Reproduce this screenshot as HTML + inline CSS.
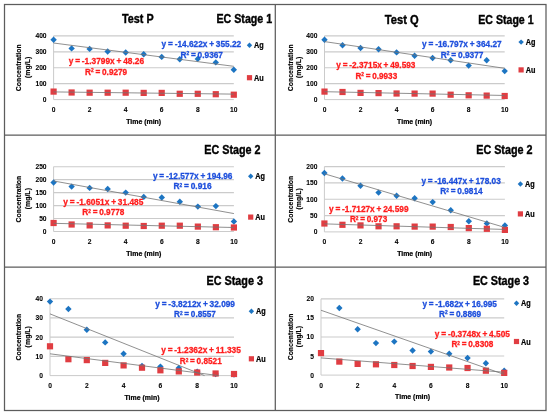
<!DOCTYPE html>
<html><head><meta charset="utf-8"><style>
html,body{margin:0;padding:0;background:#fff;width:550px;height:414px;overflow:hidden}
svg{display:block}
text{font-family:"Liberation Sans", sans-serif;font-weight:bold}
</style></head><body>
<svg width="550" height="414" viewBox="0 0 550 414">
<defs><filter id="bl" x="0" y="0" width="550" height="414" filterUnits="userSpaceOnUse"><feGaussianBlur stdDeviation="0.35"/></filter></defs>
<rect width="550" height="414" fill="#fff"/>
<g filter="url(#bl)">
<line x1="53.6" y1="83.67" x2="233.8" y2="83.67" stroke="#cbcbcb" stroke-width="1.15"/>
<line x1="53.6" y1="67.75" x2="233.8" y2="67.75" stroke="#cbcbcb" stroke-width="1.15"/>
<line x1="53.6" y1="51.82" x2="233.8" y2="51.82" stroke="#cbcbcb" stroke-width="1.15"/>
<line x1="53.6" y1="35.9" x2="233.8" y2="35.9" stroke="#cbcbcb" stroke-width="1.15"/>
<line x1="53.6" y1="35.9" x2="53.6" y2="99.6" stroke="#cbcbcb" stroke-width="1"/>
<line x1="53.6" y1="99.6" x2="233.8" y2="99.6" stroke="#cbcbcb" stroke-width="1"/>
<text x="46.6" y="102.1" font-size="6.7" fill="#000" stroke="#000" text-anchor="end" stroke-width="0.08">0</text>
<text x="46.6" y="86.17" font-size="6.7" fill="#000" stroke="#000" text-anchor="end" stroke-width="0.08">100</text>
<text x="46.6" y="70.25" font-size="6.7" fill="#000" stroke="#000" text-anchor="end" stroke-width="0.08">200</text>
<text x="46.6" y="54.32" font-size="6.7" fill="#000" stroke="#000" text-anchor="end" stroke-width="0.08">300</text>
<text x="46.6" y="38.4" font-size="6.7" fill="#000" stroke="#000" text-anchor="end" stroke-width="0.08">400</text>
<text x="53.6" y="112.1" font-size="6.7" fill="#000" stroke="#000" text-anchor="middle" stroke-width="0.08">0</text>
<text x="89.64" y="112.1" font-size="6.7" fill="#000" stroke="#000" text-anchor="middle" stroke-width="0.08">2</text>
<text x="125.68" y="112.1" font-size="6.7" fill="#000" stroke="#000" text-anchor="middle" stroke-width="0.08">4</text>
<text x="161.72" y="112.1" font-size="6.7" fill="#000" stroke="#000" text-anchor="middle" stroke-width="0.08">6</text>
<text x="197.76" y="112.1" font-size="6.7" fill="#000" stroke="#000" text-anchor="middle" stroke-width="0.08">8</text>
<text x="233.8" y="112.1" font-size="6.7" fill="#000" stroke="#000" text-anchor="middle" stroke-width="0.08">10</text>
<text x="126.2" y="123.9" font-size="7.6" fill="#000" stroke="#000" textLength="35" lengthAdjust="spacingAndGlyphs" stroke-width="0.24">Time (min)</text>
<text transform="translate(21.4 67.75) rotate(-90)" x="0" y="0" font-size="8.1" fill="#000" stroke="#000" stroke-width="0.15" text-anchor="middle" textLength="46.8" lengthAdjust="spacingAndGlyphs">Concentration</text>
<text transform="translate(30.1 67.35) rotate(-90)" x="0" y="0" font-size="8.1" fill="#000" stroke="#000" stroke-width="0.15" text-anchor="middle" textLength="21.3" lengthAdjust="spacingAndGlyphs">(mg/L)</text>
<path d="M53.6 36.6L56.8 39.8L53.6 43L50.4 39.8Z" fill="#1f74c2"/>
<path d="M71.62 45.2L74.82 48.4L71.62 51.6L68.42 48.4Z" fill="#1f74c2"/>
<path d="M89.64 45.7L92.84 48.9L89.64 52.1L86.44 48.9Z" fill="#1f74c2"/>
<path d="M107.66 48.3L110.86 51.5L107.66 54.7L104.46 51.5Z" fill="#1f74c2"/>
<path d="M125.68 49.3L128.88 52.5L125.68 55.7L122.48 52.5Z" fill="#1f74c2"/>
<path d="M143.7 51.1L146.9 54.3L143.7 57.5L140.5 54.3Z" fill="#1f74c2"/>
<path d="M161.72 53.7L164.92 56.9L161.72 60.1L158.52 56.9Z" fill="#1f74c2"/>
<path d="M179.74 56.1L182.94 59.3L179.74 62.5L176.54 59.3Z" fill="#1f74c2"/>
<path d="M197.76 55.7L200.96 58.9L197.76 62.1L194.56 58.9Z" fill="#1f74c2"/>
<path d="M215.78 59.2L218.98 62.4L215.78 65.6L212.58 62.4Z" fill="#1f74c2"/>
<path d="M233.8 66.6L237 69.8L233.8 73L230.6 69.8Z" fill="#1f74c2"/>
<rect x="50.5" y="88.5" width="6.2" height="6.2" fill="#e03e42"/>
<rect x="68.52" y="89.4" width="6.2" height="6.2" fill="#e03e42"/>
<rect x="86.54" y="89.6" width="6.2" height="6.2" fill="#e03e42"/>
<rect x="104.56" y="89.6" width="6.2" height="6.2" fill="#e03e42"/>
<rect x="122.58" y="89.6" width="6.2" height="6.2" fill="#e03e42"/>
<rect x="140.6" y="89.8" width="6.2" height="6.2" fill="#e03e42"/>
<rect x="158.62" y="89.8" width="6.2" height="6.2" fill="#e03e42"/>
<rect x="176.64" y="90.7" width="6.2" height="6.2" fill="#e03e42"/>
<rect x="194.66" y="90.7" width="6.2" height="6.2" fill="#e03e42"/>
<rect x="212.68" y="91.1" width="6.2" height="6.2" fill="#e03e42"/>
<rect x="230.7" y="91.6" width="6.2" height="6.2" fill="#e03e42"/>
<line x1="53.6" y1="43.03" x2="233.8" y2="66.32" stroke="#747474" stroke-width="0.8"/>
<line x1="53.6" y1="91.91" x2="233.8" y2="94.11" stroke="#747474" stroke-width="0.8"/>
<text x="122.1" y="23.2" font-size="12" fill="#000" stroke="#000" textLength="31.5" lengthAdjust="spacingAndGlyphs" stroke-width="0.38">Test P</text>
<text x="216.5" y="23.3" font-size="12" fill="#000" stroke="#000" textLength="55.6" lengthAdjust="spacingAndGlyphs" stroke-width="0.38">EC Stage 1</text>
<text x="161.6" y="47.4" font-size="8.3" fill="#1d4fdc" stroke="#1d4fdc" textLength="79.6" lengthAdjust="spacingAndGlyphs" stroke-width="0.28" word-spacing="-0.5">y = -14.622x + 355.22</text>
<text x="180.5" y="57.5" font-size="8.3" fill="#1d4fdc" stroke="#1d4fdc" textLength="42.5" lengthAdjust="spacingAndGlyphs" stroke-width="0.28" word-spacing="-0.5">R<tspan font-size="4.8" dy="-2.4">2</tspan><tspan dy="2.4"> = 0.9367</tspan></text>
<text x="68.7" y="63.8" font-size="8.3" fill="#ff1c1c" stroke="#ff1c1c" textLength="75.4" lengthAdjust="spacingAndGlyphs" stroke-width="0.28" word-spacing="-0.5">y = -1.3799x + 48.26</text>
<text x="85.1" y="74.7" font-size="8.3" fill="#ff1c1c" stroke="#ff1c1c" textLength="42.1" lengthAdjust="spacingAndGlyphs" stroke-width="0.28" word-spacing="-0.5">R<tspan font-size="4.8" dy="-2.4">2</tspan><tspan dy="2.4"> = 0.9279</tspan></text>
<path d="M249.5 42.6L252.2 45.3L249.5 48L246.8 45.3Z" fill="#1f74c2"/>
<rect x="246.9" y="75.1" width="5.2" height="5.2" fill="#e03e42"/>
<text x="254.1" y="48.3" font-size="8.2" fill="#000" stroke="#000" textLength="9.7" lengthAdjust="spacingAndGlyphs" stroke-width="0.24">Ag</text>
<text x="254.1" y="80.8" font-size="8.2" fill="#000" stroke="#000" textLength="9.7" lengthAdjust="spacingAndGlyphs" stroke-width="0.24">Au</text>
<line x1="324.5" y1="83.67" x2="504.7" y2="83.67" stroke="#cbcbcb" stroke-width="1.15"/>
<line x1="324.5" y1="67.75" x2="504.7" y2="67.75" stroke="#cbcbcb" stroke-width="1.15"/>
<line x1="324.5" y1="51.82" x2="504.7" y2="51.82" stroke="#cbcbcb" stroke-width="1.15"/>
<line x1="324.5" y1="35.9" x2="504.7" y2="35.9" stroke="#cbcbcb" stroke-width="1.15"/>
<line x1="324.5" y1="35.9" x2="324.5" y2="99.6" stroke="#cbcbcb" stroke-width="1"/>
<line x1="324.5" y1="99.6" x2="504.7" y2="99.6" stroke="#cbcbcb" stroke-width="1"/>
<text x="317.5" y="102.1" font-size="6.7" fill="#000" stroke="#000" text-anchor="end" stroke-width="0.08">0</text>
<text x="317.5" y="86.17" font-size="6.7" fill="#000" stroke="#000" text-anchor="end" stroke-width="0.08">100</text>
<text x="317.5" y="70.25" font-size="6.7" fill="#000" stroke="#000" text-anchor="end" stroke-width="0.08">200</text>
<text x="317.5" y="54.32" font-size="6.7" fill="#000" stroke="#000" text-anchor="end" stroke-width="0.08">300</text>
<text x="317.5" y="38.4" font-size="6.7" fill="#000" stroke="#000" text-anchor="end" stroke-width="0.08">400</text>
<text x="324.5" y="112.1" font-size="6.7" fill="#000" stroke="#000" text-anchor="middle" stroke-width="0.08">0</text>
<text x="360.54" y="112.1" font-size="6.7" fill="#000" stroke="#000" text-anchor="middle" stroke-width="0.08">2</text>
<text x="396.58" y="112.1" font-size="6.7" fill="#000" stroke="#000" text-anchor="middle" stroke-width="0.08">4</text>
<text x="432.62" y="112.1" font-size="6.7" fill="#000" stroke="#000" text-anchor="middle" stroke-width="0.08">6</text>
<text x="468.66" y="112.1" font-size="6.7" fill="#000" stroke="#000" text-anchor="middle" stroke-width="0.08">8</text>
<text x="504.7" y="112.1" font-size="6.7" fill="#000" stroke="#000" text-anchor="middle" stroke-width="0.08">10</text>
<text x="397.1" y="123.9" font-size="7.6" fill="#000" stroke="#000" textLength="35" lengthAdjust="spacingAndGlyphs" stroke-width="0.24">Time (min)</text>
<text transform="translate(292.7 67.75) rotate(-90)" x="0" y="0" font-size="8.1" fill="#000" stroke="#000" stroke-width="0.15" text-anchor="middle" textLength="46.8" lengthAdjust="spacingAndGlyphs">Concentration</text>
<text transform="translate(301.1 67.35) rotate(-90)" x="0" y="0" font-size="8.1" fill="#000" stroke="#000" stroke-width="0.15" text-anchor="middle" textLength="21.3" lengthAdjust="spacingAndGlyphs">(mg/L)</text>
<path d="M324.5 36.6L327.7 39.8L324.5 43L321.3 39.8Z" fill="#1f74c2"/>
<path d="M342.52 42.1L345.72 45.3L342.52 48.5L339.32 45.3Z" fill="#1f74c2"/>
<path d="M360.54 44.8L363.74 48L360.54 51.2L357.34 48Z" fill="#1f74c2"/>
<path d="M378.56 46.1L381.76 49.3L378.56 52.5L375.36 49.3Z" fill="#1f74c2"/>
<path d="M396.58 49.2L399.78 52.4L396.58 55.6L393.38 52.4Z" fill="#1f74c2"/>
<path d="M414.6 52.6L417.8 55.8L414.6 59L411.4 55.8Z" fill="#1f74c2"/>
<path d="M432.62 54.8L435.82 58L432.62 61.2L429.42 58Z" fill="#1f74c2"/>
<path d="M450.64 57L453.84 60.2L450.64 63.4L447.44 60.2Z" fill="#1f74c2"/>
<path d="M468.66 62.4L471.86 65.6L468.66 68.8L465.46 65.6Z" fill="#1f74c2"/>
<path d="M486.68 57L489.88 60.2L486.68 63.4L483.48 60.2Z" fill="#1f74c2"/>
<path d="M504.7 67.9L507.9 71.1L504.7 74.3L501.5 71.1Z" fill="#1f74c2"/>
<rect x="321.4" y="88.5" width="6.2" height="6.2" fill="#e03e42"/>
<rect x="339.42" y="88.9" width="6.2" height="6.2" fill="#e03e42"/>
<rect x="357.44" y="89.8" width="6.2" height="6.2" fill="#e03e42"/>
<rect x="375.46" y="90" width="6.2" height="6.2" fill="#e03e42"/>
<rect x="393.48" y="90.4" width="6.2" height="6.2" fill="#e03e42"/>
<rect x="411.5" y="90.5" width="6.2" height="6.2" fill="#e03e42"/>
<rect x="429.52" y="90.5" width="6.2" height="6.2" fill="#e03e42"/>
<rect x="447.54" y="91.6" width="6.2" height="6.2" fill="#e03e42"/>
<rect x="465.56" y="92.2" width="6.2" height="6.2" fill="#e03e42"/>
<rect x="483.58" y="92.5" width="6.2" height="6.2" fill="#e03e42"/>
<rect x="501.6" y="92.9" width="6.2" height="6.2" fill="#e03e42"/>
<line x1="324.5" y1="41.59" x2="504.7" y2="68.34" stroke="#747474" stroke-width="0.8"/>
<line x1="324.5" y1="91.7" x2="504.7" y2="95.48" stroke="#747474" stroke-width="0.8"/>
<text x="384.8" y="23.6" font-size="12" fill="#000" stroke="#000" textLength="33.8" lengthAdjust="spacingAndGlyphs" stroke-width="0.38">Test Q</text>
<text x="478.3" y="23.8" font-size="12" fill="#000" stroke="#000" textLength="55.3" lengthAdjust="spacingAndGlyphs" stroke-width="0.38">EC Stage 1</text>
<text x="422.1" y="47.1" font-size="8.3" fill="#1d4fdc" stroke="#1d4fdc" textLength="79.6" lengthAdjust="spacingAndGlyphs" stroke-width="0.28" word-spacing="-0.5">y = -16.797x + 364.27</text>
<text x="440.8" y="57.6" font-size="8.3" fill="#1d4fdc" stroke="#1d4fdc" textLength="42.7" lengthAdjust="spacingAndGlyphs" stroke-width="0.28" word-spacing="-0.5">R<tspan font-size="4.8" dy="-2.4">2</tspan><tspan dy="2.4"> = 0.9377</tspan></text>
<text x="336.3" y="68.2" font-size="8.3" fill="#ff1c1c" stroke="#ff1c1c" textLength="79.1" lengthAdjust="spacingAndGlyphs" stroke-width="0.28" word-spacing="-0.5">y = -2.3715x + 49.593</text>
<text x="355.4" y="78.5" font-size="8.3" fill="#ff1c1c" stroke="#ff1c1c" textLength="41.8" lengthAdjust="spacingAndGlyphs" stroke-width="0.28" word-spacing="-0.5">R<tspan font-size="4.8" dy="-2.4">2</tspan><tspan dy="2.4"> = 0.9933</tspan></text>
<path d="M521.1 39.4L523.8 42.1L521.1 44.8L518.4 42.1Z" fill="#1f74c2"/>
<rect x="518.5" y="67.3" width="5.2" height="5.2" fill="#e03e42"/>
<text x="525.7" y="45.1" font-size="8.2" fill="#000" stroke="#000" textLength="9.7" lengthAdjust="spacingAndGlyphs" stroke-width="0.24">Ag</text>
<text x="525.7" y="73" font-size="8.2" fill="#000" stroke="#000" textLength="9.7" lengthAdjust="spacingAndGlyphs" stroke-width="0.24">Au</text>
<line x1="53.6" y1="218.54" x2="233.9" y2="218.54" stroke="#cbcbcb" stroke-width="1.15"/>
<line x1="53.6" y1="205.58" x2="233.9" y2="205.58" stroke="#cbcbcb" stroke-width="1.15"/>
<line x1="53.6" y1="192.62" x2="233.9" y2="192.62" stroke="#cbcbcb" stroke-width="1.15"/>
<line x1="53.6" y1="179.66" x2="233.9" y2="179.66" stroke="#cbcbcb" stroke-width="1.15"/>
<line x1="53.6" y1="166.7" x2="233.9" y2="166.7" stroke="#cbcbcb" stroke-width="1.15"/>
<line x1="53.6" y1="166.7" x2="53.6" y2="231.5" stroke="#cbcbcb" stroke-width="1"/>
<line x1="53.6" y1="231.5" x2="233.9" y2="231.5" stroke="#cbcbcb" stroke-width="1"/>
<text x="46.6" y="234" font-size="6.7" fill="#000" stroke="#000" text-anchor="end" stroke-width="0.08">0</text>
<text x="46.6" y="221.04" font-size="6.7" fill="#000" stroke="#000" text-anchor="end" stroke-width="0.08">50</text>
<text x="46.6" y="208.08" font-size="6.7" fill="#000" stroke="#000" text-anchor="end" stroke-width="0.08">100</text>
<text x="46.6" y="195.12" font-size="6.7" fill="#000" stroke="#000" text-anchor="end" stroke-width="0.08">150</text>
<text x="46.6" y="182.16" font-size="6.7" fill="#000" stroke="#000" text-anchor="end" stroke-width="0.08">200</text>
<text x="46.6" y="169.2" font-size="6.7" fill="#000" stroke="#000" text-anchor="end" stroke-width="0.08">250</text>
<text x="53.6" y="244" font-size="6.7" fill="#000" stroke="#000" text-anchor="middle" stroke-width="0.08">0</text>
<text x="89.66" y="244" font-size="6.7" fill="#000" stroke="#000" text-anchor="middle" stroke-width="0.08">2</text>
<text x="125.72" y="244" font-size="6.7" fill="#000" stroke="#000" text-anchor="middle" stroke-width="0.08">4</text>
<text x="161.78" y="244" font-size="6.7" fill="#000" stroke="#000" text-anchor="middle" stroke-width="0.08">6</text>
<text x="197.84" y="244" font-size="6.7" fill="#000" stroke="#000" text-anchor="middle" stroke-width="0.08">8</text>
<text x="233.9" y="244" font-size="6.7" fill="#000" stroke="#000" text-anchor="middle" stroke-width="0.08">10</text>
<text x="126.25" y="255.8" font-size="7.6" fill="#000" stroke="#000" textLength="35" lengthAdjust="spacingAndGlyphs" stroke-width="0.24">Time (min)</text>
<text transform="translate(21.4 199.1) rotate(-90)" x="0" y="0" font-size="8.1" fill="#000" stroke="#000" stroke-width="0.15" text-anchor="middle" textLength="46.8" lengthAdjust="spacingAndGlyphs">Concentration</text>
<text transform="translate(30.1 198.7) rotate(-90)" x="0" y="0" font-size="8.1" fill="#000" stroke="#000" stroke-width="0.15" text-anchor="middle" textLength="21.3" lengthAdjust="spacingAndGlyphs">(mg/L)</text>
<path d="M53.6 179.3L56.8 182.5L53.6 185.7L50.4 182.5Z" fill="#1f74c2"/>
<path d="M71.63 183.4L74.83 186.6L71.63 189.8L68.43 186.6Z" fill="#1f74c2"/>
<path d="M89.66 184.7L92.86 187.9L89.66 191.1L86.46 187.9Z" fill="#1f74c2"/>
<path d="M107.69 185.8L110.89 189L107.69 192.2L104.49 189Z" fill="#1f74c2"/>
<path d="M125.72 189.4L128.92 192.6L125.72 195.8L122.52 192.6Z" fill="#1f74c2"/>
<path d="M143.75 193.7L146.95 196.9L143.75 200.1L140.55 196.9Z" fill="#1f74c2"/>
<path d="M161.78 194.3L164.98 197.5L161.78 200.7L158.58 197.5Z" fill="#1f74c2"/>
<path d="M179.81 198.5L183.01 201.7L179.81 204.9L176.61 201.7Z" fill="#1f74c2"/>
<path d="M197.84 203.4L201.04 206.6L197.84 209.8L194.64 206.6Z" fill="#1f74c2"/>
<path d="M215.87 202.9L219.07 206.1L215.87 209.3L212.67 206.1Z" fill="#1f74c2"/>
<path d="M233.9 218.3L237.1 221.5L233.9 224.7L230.7 221.5Z" fill="#1f74c2"/>
<rect x="50.5" y="219.9" width="6.2" height="6.2" fill="#e03e42"/>
<rect x="68.53" y="221.4" width="6.2" height="6.2" fill="#e03e42"/>
<rect x="86.56" y="222.3" width="6.2" height="6.2" fill="#e03e42"/>
<rect x="104.59" y="222.3" width="6.2" height="6.2" fill="#e03e42"/>
<rect x="122.62" y="222.6" width="6.2" height="6.2" fill="#e03e42"/>
<rect x="140.65" y="222.9" width="6.2" height="6.2" fill="#e03e42"/>
<rect x="158.68" y="222.6" width="6.2" height="6.2" fill="#e03e42"/>
<rect x="176.71" y="222.6" width="6.2" height="6.2" fill="#e03e42"/>
<rect x="194.74" y="223.5" width="6.2" height="6.2" fill="#e03e42"/>
<rect x="212.77" y="224.1" width="6.2" height="6.2" fill="#e03e42"/>
<rect x="230.8" y="224.4" width="6.2" height="6.2" fill="#e03e42"/>
<line x1="53.6" y1="180.97" x2="233.9" y2="213.57" stroke="#747474" stroke-width="0.8"/>
<line x1="53.6" y1="223.34" x2="233.9" y2="227.5" stroke="#747474" stroke-width="0.8"/>
<text x="204.3" y="154.3" font-size="12" fill="#000" stroke="#000" textLength="56.2" lengthAdjust="spacingAndGlyphs" stroke-width="0.38">EC Stage 2</text>
<text x="152.9" y="178.9" font-size="8.3" fill="#1d4fdc" stroke="#1d4fdc" textLength="79.6" lengthAdjust="spacingAndGlyphs" stroke-width="0.28" word-spacing="-0.5">y = -12.577x + 194.96</text>
<text x="173.5" y="189.2" font-size="8.3" fill="#1d4fdc" stroke="#1d4fdc" textLength="38.1" lengthAdjust="spacingAndGlyphs" stroke-width="0.28" word-spacing="-0.5">R<tspan font-size="4.8" dy="-2.4">2</tspan><tspan dy="2.4"> = 0.916</tspan></text>
<text x="63.3" y="204.7" font-size="8.3" fill="#ff1c1c" stroke="#ff1c1c" textLength="80.1" lengthAdjust="spacingAndGlyphs" stroke-width="0.28" word-spacing="-0.5">y = -1.6051x + 31.485</text>
<text x="82.3" y="215.2" font-size="8.3" fill="#ff1c1c" stroke="#ff1c1c" textLength="42.1" lengthAdjust="spacingAndGlyphs" stroke-width="0.28" word-spacing="-0.5">R<tspan font-size="4.8" dy="-2.4">2</tspan><tspan dy="2.4"> = 0.9778</tspan></text>
<path d="M250.7 173.6L253.4 176.3L250.7 179L248 176.3Z" fill="#1f74c2"/>
<rect x="248.1" y="214.5" width="5.2" height="5.2" fill="#e03e42"/>
<text x="255.3" y="179.3" font-size="8.2" fill="#000" stroke="#000" textLength="9.7" lengthAdjust="spacingAndGlyphs" stroke-width="0.24">Ag</text>
<text x="255.3" y="220.2" font-size="8.2" fill="#000" stroke="#000" textLength="9.7" lengthAdjust="spacingAndGlyphs" stroke-width="0.24">Au</text>
<line x1="324.4" y1="215.57" x2="504.9" y2="215.57" stroke="#cbcbcb" stroke-width="1.15"/>
<line x1="324.4" y1="199.25" x2="504.9" y2="199.25" stroke="#cbcbcb" stroke-width="1.15"/>
<line x1="324.4" y1="182.93" x2="504.9" y2="182.93" stroke="#cbcbcb" stroke-width="1.15"/>
<line x1="324.4" y1="166.6" x2="504.9" y2="166.6" stroke="#cbcbcb" stroke-width="1.15"/>
<line x1="324.4" y1="166.6" x2="324.4" y2="231.9" stroke="#cbcbcb" stroke-width="1"/>
<line x1="324.4" y1="231.9" x2="504.9" y2="231.9" stroke="#cbcbcb" stroke-width="1"/>
<text x="317.4" y="234.4" font-size="6.7" fill="#000" stroke="#000" text-anchor="end" stroke-width="0.08">0</text>
<text x="317.4" y="218.07" font-size="6.7" fill="#000" stroke="#000" text-anchor="end" stroke-width="0.08">50</text>
<text x="317.4" y="201.75" font-size="6.7" fill="#000" stroke="#000" text-anchor="end" stroke-width="0.08">100</text>
<text x="317.4" y="185.43" font-size="6.7" fill="#000" stroke="#000" text-anchor="end" stroke-width="0.08">150</text>
<text x="317.4" y="169.1" font-size="6.7" fill="#000" stroke="#000" text-anchor="end" stroke-width="0.08">200</text>
<text x="324.4" y="244.4" font-size="6.7" fill="#000" stroke="#000" text-anchor="middle" stroke-width="0.08">0</text>
<text x="360.5" y="244.4" font-size="6.7" fill="#000" stroke="#000" text-anchor="middle" stroke-width="0.08">2</text>
<text x="396.6" y="244.4" font-size="6.7" fill="#000" stroke="#000" text-anchor="middle" stroke-width="0.08">4</text>
<text x="432.7" y="244.4" font-size="6.7" fill="#000" stroke="#000" text-anchor="middle" stroke-width="0.08">6</text>
<text x="468.8" y="244.4" font-size="6.7" fill="#000" stroke="#000" text-anchor="middle" stroke-width="0.08">8</text>
<text x="504.9" y="244.4" font-size="6.7" fill="#000" stroke="#000" text-anchor="middle" stroke-width="0.08">10</text>
<text x="397.15" y="256.2" font-size="7.6" fill="#000" stroke="#000" textLength="35" lengthAdjust="spacingAndGlyphs" stroke-width="0.24">Time (min)</text>
<text transform="translate(292.7 199.25) rotate(-90)" x="0" y="0" font-size="8.1" fill="#000" stroke="#000" stroke-width="0.15" text-anchor="middle" textLength="46.8" lengthAdjust="spacingAndGlyphs">Concentration</text>
<text transform="translate(301.1 198.85) rotate(-90)" x="0" y="0" font-size="8.1" fill="#000" stroke="#000" stroke-width="0.15" text-anchor="middle" textLength="21.3" lengthAdjust="spacingAndGlyphs">(mg/L)</text>
<path d="M324.4 169.8L327.6 173L324.4 176.2L321.2 173Z" fill="#1f74c2"/>
<path d="M342.45 175.3L345.65 178.5L342.45 181.7L339.25 178.5Z" fill="#1f74c2"/>
<path d="M360.5 182.5L363.7 185.7L360.5 188.9L357.3 185.7Z" fill="#1f74c2"/>
<path d="M378.55 189.4L381.75 192.6L378.55 195.8L375.35 192.6Z" fill="#1f74c2"/>
<path d="M396.6 192.5L399.8 195.7L396.6 198.9L393.4 195.7Z" fill="#1f74c2"/>
<path d="M414.65 195.1L417.85 198.3L414.65 201.5L411.45 198.3Z" fill="#1f74c2"/>
<path d="M432.7 198.9L435.9 202.1L432.7 205.3L429.5 202.1Z" fill="#1f74c2"/>
<path d="M450.75 207.1L453.95 210.3L450.75 213.5L447.55 210.3Z" fill="#1f74c2"/>
<path d="M468.8 218L472 221.2L468.8 224.4L465.6 221.2Z" fill="#1f74c2"/>
<path d="M486.85 220.2L490.05 223.4L486.85 226.6L483.65 223.4Z" fill="#1f74c2"/>
<path d="M504.9 222.2L508.1 225.4L504.9 228.6L501.7 225.4Z" fill="#1f74c2"/>
<rect x="321.3" y="220.4" width="6.2" height="6.2" fill="#e03e42"/>
<rect x="339.35" y="221.7" width="6.2" height="6.2" fill="#e03e42"/>
<rect x="357.4" y="222.3" width="6.2" height="6.2" fill="#e03e42"/>
<rect x="375.45" y="223.2" width="6.2" height="6.2" fill="#e03e42"/>
<rect x="393.5" y="223.2" width="6.2" height="6.2" fill="#e03e42"/>
<rect x="411.55" y="223.5" width="6.2" height="6.2" fill="#e03e42"/>
<rect x="429.6" y="223.5" width="6.2" height="6.2" fill="#e03e42"/>
<rect x="447.65" y="223.9" width="6.2" height="6.2" fill="#e03e42"/>
<rect x="465.7" y="225" width="6.2" height="6.2" fill="#e03e42"/>
<rect x="483.75" y="225.7" width="6.2" height="6.2" fill="#e03e42"/>
<rect x="501.8" y="226.8" width="6.2" height="6.2" fill="#e03e42"/>
<line x1="324.4" y1="173.77" x2="504.9" y2="227.47" stroke="#747474" stroke-width="0.8"/>
<line x1="324.4" y1="223.87" x2="504.9" y2="229.46" stroke="#747474" stroke-width="0.8"/>
<text x="476.2" y="153.5" font-size="12" fill="#000" stroke="#000" textLength="56.3" lengthAdjust="spacingAndGlyphs" stroke-width="0.38">EC Stage 2</text>
<text x="421.4" y="183.5" font-size="8.3" fill="#1d4fdc" stroke="#1d4fdc" textLength="79.4" lengthAdjust="spacingAndGlyphs" stroke-width="0.28" word-spacing="-0.5">y = -16.447x + 178.03</text>
<text x="440.3" y="194.1" font-size="8.3" fill="#1d4fdc" stroke="#1d4fdc" textLength="42.3" lengthAdjust="spacingAndGlyphs" stroke-width="0.28" word-spacing="-0.5">R<tspan font-size="4.8" dy="-2.4">2</tspan><tspan dy="2.4"> = 0.9814</tspan></text>
<text x="329" y="212.2" font-size="8.3" fill="#ff1c1c" stroke="#ff1c1c" textLength="79.5" lengthAdjust="spacingAndGlyphs" stroke-width="0.28" word-spacing="-0.5">y = -1.7127x + 24.599</text>
<text x="349.9" y="222.4" font-size="8.3" fill="#ff1c1c" stroke="#ff1c1c" textLength="37.3" lengthAdjust="spacingAndGlyphs" stroke-width="0.28" word-spacing="-0.5">R<tspan font-size="4.8" dy="-2.4">2</tspan><tspan dy="2.4"> = 0.973</tspan></text>
<path d="M520.4 181.3L523.1 184L520.4 186.7L517.7 184Z" fill="#1f74c2"/>
<rect x="517.8" y="211.3" width="5.2" height="5.2" fill="#e03e42"/>
<text x="525" y="187" font-size="8.2" fill="#000" stroke="#000" textLength="9.7" lengthAdjust="spacingAndGlyphs" stroke-width="0.24">Ag</text>
<text x="525" y="217" font-size="8.2" fill="#000" stroke="#000" textLength="9.7" lengthAdjust="spacingAndGlyphs" stroke-width="0.24">Au</text>
<line x1="50" y1="356.38" x2="234" y2="356.38" stroke="#cbcbcb" stroke-width="1.15"/>
<line x1="50" y1="337.15" x2="234" y2="337.15" stroke="#cbcbcb" stroke-width="1.15"/>
<line x1="50" y1="317.93" x2="234" y2="317.93" stroke="#cbcbcb" stroke-width="1.15"/>
<line x1="50" y1="298.7" x2="234" y2="298.7" stroke="#cbcbcb" stroke-width="1.15"/>
<line x1="50" y1="298.7" x2="50" y2="375.6" stroke="#cbcbcb" stroke-width="1"/>
<line x1="50" y1="375.6" x2="234" y2="375.6" stroke="#cbcbcb" stroke-width="1"/>
<text x="43" y="378.1" font-size="6.7" fill="#000" stroke="#000" text-anchor="end" stroke-width="0.08">0</text>
<text x="43" y="358.88" font-size="6.7" fill="#000" stroke="#000" text-anchor="end" stroke-width="0.08">10</text>
<text x="43" y="339.65" font-size="6.7" fill="#000" stroke="#000" text-anchor="end" stroke-width="0.08">20</text>
<text x="43" y="320.43" font-size="6.7" fill="#000" stroke="#000" text-anchor="end" stroke-width="0.08">30</text>
<text x="43" y="301.2" font-size="6.7" fill="#000" stroke="#000" text-anchor="end" stroke-width="0.08">40</text>
<text x="50" y="388.1" font-size="6.7" fill="#000" stroke="#000" text-anchor="middle" stroke-width="0.08">0</text>
<text x="86.8" y="388.1" font-size="6.7" fill="#000" stroke="#000" text-anchor="middle" stroke-width="0.08">2</text>
<text x="123.6" y="388.1" font-size="6.7" fill="#000" stroke="#000" text-anchor="middle" stroke-width="0.08">4</text>
<text x="160.4" y="388.1" font-size="6.7" fill="#000" stroke="#000" text-anchor="middle" stroke-width="0.08">6</text>
<text x="197.2" y="388.1" font-size="6.7" fill="#000" stroke="#000" text-anchor="middle" stroke-width="0.08">8</text>
<text x="234" y="388.1" font-size="6.7" fill="#000" stroke="#000" text-anchor="middle" stroke-width="0.08">10</text>
<text x="124.5" y="399.9" font-size="7.6" fill="#000" stroke="#000" textLength="35" lengthAdjust="spacingAndGlyphs" stroke-width="0.24">Time (min)</text>
<text transform="translate(21.4 337.15) rotate(-90)" x="0" y="0" font-size="8.1" fill="#000" stroke="#000" stroke-width="0.15" text-anchor="middle" textLength="46.8" lengthAdjust="spacingAndGlyphs">Concentration</text>
<text transform="translate(30.1 336.75) rotate(-90)" x="0" y="0" font-size="8.1" fill="#000" stroke="#000" stroke-width="0.15" text-anchor="middle" textLength="21.3" lengthAdjust="spacingAndGlyphs">(mg/L)</text>
<path d="M50 298.4L53.2 301.6L50 304.8L46.8 301.6Z" fill="#1f74c2"/>
<path d="M68.4 305.8L71.6 309L68.4 312.2L65.2 309Z" fill="#1f74c2"/>
<path d="M86.8 326.5L90 329.7L86.8 332.9L83.6 329.7Z" fill="#1f74c2"/>
<path d="M105.2 339.2L108.4 342.4L105.2 345.6L102 342.4Z" fill="#1f74c2"/>
<path d="M123.6 350.5L126.8 353.7L123.6 356.9L120.4 353.7Z" fill="#1f74c2"/>
<path d="M142 362.8L145.2 366L142 369.2L138.8 366Z" fill="#1f74c2"/>
<path d="M160.4 363.4L163.6 366.6L160.4 369.8L157.2 366.6Z" fill="#1f74c2"/>
<path d="M178.8 364.8L182 368L178.8 371.2L175.6 368Z" fill="#1f74c2"/>
<path d="M197.2 368.4L200.4 371.6L197.2 374.8L194 371.6Z" fill="#1f74c2"/>
<path d="M215.6 370.8L218.8 374L215.6 377.2L212.4 374Z" fill="#1f74c2"/>
<path d="M234 371.3L237.2 374.5L234 377.7L230.8 374.5Z" fill="#1f74c2"/>
<rect x="46.9" y="343.2" width="6.2" height="6.2" fill="#e03e42"/>
<rect x="65.3" y="356.1" width="6.2" height="6.2" fill="#e03e42"/>
<rect x="83.7" y="357" width="6.2" height="6.2" fill="#e03e42"/>
<rect x="102.1" y="359.8" width="6.2" height="6.2" fill="#e03e42"/>
<rect x="120.5" y="362.3" width="6.2" height="6.2" fill="#e03e42"/>
<rect x="138.9" y="364.6" width="6.2" height="6.2" fill="#e03e42"/>
<rect x="157.3" y="367.2" width="6.2" height="6.2" fill="#e03e42"/>
<rect x="175.7" y="368.3" width="6.2" height="6.2" fill="#e03e42"/>
<rect x="194.1" y="369.4" width="6.2" height="6.2" fill="#e03e42"/>
<rect x="212.5" y="370.4" width="6.2" height="6.2" fill="#e03e42"/>
<rect x="230.9" y="370.9" width="6.2" height="6.2" fill="#e03e42"/>
<line x1="50" y1="313.89" x2="204.56" y2="375.6" stroke="#747474" stroke-width="0.8"/>
<line x1="50" y1="353.81" x2="218.71" y2="375.6" stroke="#747474" stroke-width="0.8"/>
<text x="206.5" y="284.9" font-size="12" fill="#000" stroke="#000" textLength="56.5" lengthAdjust="spacingAndGlyphs" stroke-width="0.38">EC Stage 3</text>
<text x="155.3" y="307.3" font-size="8.3" fill="#1d4fdc" stroke="#1d4fdc" textLength="79.7" lengthAdjust="spacingAndGlyphs" stroke-width="0.28" word-spacing="-0.5">y = -3.8212x + 32.099</text>
<text x="174" y="317.3" font-size="8.3" fill="#1d4fdc" stroke="#1d4fdc" textLength="41.9" lengthAdjust="spacingAndGlyphs" stroke-width="0.28" word-spacing="-0.5">R<tspan font-size="4.8" dy="-2.4">2</tspan><tspan dy="2.4"> = 0.8557</tspan></text>
<text x="161.2" y="353.4" font-size="8.3" fill="#ff1c1c" stroke="#ff1c1c" textLength="79.7" lengthAdjust="spacingAndGlyphs" stroke-width="0.28" word-spacing="-0.5">y = -1.2362x + 11.335</text>
<text x="179.7" y="363.9" font-size="8.3" fill="#ff1c1c" stroke="#ff1c1c" textLength="42" lengthAdjust="spacingAndGlyphs" stroke-width="0.28" word-spacing="-0.5">R<tspan font-size="4.8" dy="-2.4">2</tspan><tspan dy="2.4"> = 0.8521</tspan></text>
<path d="M251.4 308.6L254.1 311.3L251.4 314L248.7 311.3Z" fill="#1f74c2"/>
<rect x="248.8" y="356.2" width="5.2" height="5.2" fill="#e03e42"/>
<text x="256" y="314.3" font-size="8.2" fill="#000" stroke="#000" textLength="9.7" lengthAdjust="spacingAndGlyphs" stroke-width="0.24">Ag</text>
<text x="256" y="361.9" font-size="8.2" fill="#000" stroke="#000" textLength="9.7" lengthAdjust="spacingAndGlyphs" stroke-width="0.24">Au</text>
<line x1="321" y1="356.03" x2="504.2" y2="356.03" stroke="#cbcbcb" stroke-width="1.15"/>
<line x1="321" y1="336.95" x2="504.2" y2="336.95" stroke="#cbcbcb" stroke-width="1.15"/>
<line x1="321" y1="317.88" x2="504.2" y2="317.88" stroke="#cbcbcb" stroke-width="1.15"/>
<line x1="321" y1="298.8" x2="504.2" y2="298.8" stroke="#cbcbcb" stroke-width="1.15"/>
<line x1="321" y1="298.8" x2="321" y2="375.1" stroke="#cbcbcb" stroke-width="1"/>
<line x1="321" y1="375.1" x2="504.2" y2="375.1" stroke="#cbcbcb" stroke-width="1"/>
<text x="314" y="377.6" font-size="6.7" fill="#000" stroke="#000" text-anchor="end" stroke-width="0.08">0</text>
<text x="314" y="358.53" font-size="6.7" fill="#000" stroke="#000" text-anchor="end" stroke-width="0.08">5</text>
<text x="314" y="339.45" font-size="6.7" fill="#000" stroke="#000" text-anchor="end" stroke-width="0.08">10</text>
<text x="314" y="320.38" font-size="6.7" fill="#000" stroke="#000" text-anchor="end" stroke-width="0.08">15</text>
<text x="314" y="301.3" font-size="6.7" fill="#000" stroke="#000" text-anchor="end" stroke-width="0.08">20</text>
<text x="321" y="387.6" font-size="6.7" fill="#000" stroke="#000" text-anchor="middle" stroke-width="0.08">0</text>
<text x="357.64" y="387.6" font-size="6.7" fill="#000" stroke="#000" text-anchor="middle" stroke-width="0.08">2</text>
<text x="394.28" y="387.6" font-size="6.7" fill="#000" stroke="#000" text-anchor="middle" stroke-width="0.08">4</text>
<text x="430.92" y="387.6" font-size="6.7" fill="#000" stroke="#000" text-anchor="middle" stroke-width="0.08">6</text>
<text x="467.56" y="387.6" font-size="6.7" fill="#000" stroke="#000" text-anchor="middle" stroke-width="0.08">8</text>
<text x="504.2" y="387.6" font-size="6.7" fill="#000" stroke="#000" text-anchor="middle" stroke-width="0.08">10</text>
<text x="395.1" y="399.4" font-size="7.6" fill="#000" stroke="#000" textLength="35" lengthAdjust="spacingAndGlyphs" stroke-width="0.24">Time (min)</text>
<text transform="translate(292.7 336.95) rotate(-90)" x="0" y="0" font-size="8.1" fill="#000" stroke="#000" stroke-width="0.15" text-anchor="middle" textLength="46.8" lengthAdjust="spacingAndGlyphs">Concentration</text>
<text transform="translate(301.1 336.55) rotate(-90)" x="0" y="0" font-size="8.1" fill="#000" stroke="#000" stroke-width="0.15" text-anchor="middle" textLength="21.3" lengthAdjust="spacingAndGlyphs">(mg/L)</text>
<path d="M339.32 304.8L342.52 308L339.32 311.2L336.12 308Z" fill="#1f74c2"/>
<path d="M357.64 326L360.84 329.2L357.64 332.4L354.44 329.2Z" fill="#1f74c2"/>
<path d="M375.96 339.9L379.16 343.1L375.96 346.3L372.76 343.1Z" fill="#1f74c2"/>
<path d="M394.28 338.4L397.48 341.6L394.28 344.8L391.08 341.6Z" fill="#1f74c2"/>
<path d="M412.6 347.3L415.8 350.5L412.6 353.7L409.4 350.5Z" fill="#1f74c2"/>
<path d="M430.92 348.4L434.12 351.6L430.92 354.8L427.72 351.6Z" fill="#1f74c2"/>
<path d="M449.24 350.5L452.44 353.7L449.24 356.9L446.04 353.7Z" fill="#1f74c2"/>
<path d="M467.56 354.8L470.76 358L467.56 361.2L464.36 358Z" fill="#1f74c2"/>
<path d="M485.88 360.1L489.08 363.3L485.88 366.5L482.68 363.3Z" fill="#1f74c2"/>
<path d="M504.2 367.5L507.4 370.7L504.2 373.9L501 370.7Z" fill="#1f74c2"/>
<rect x="317.9" y="350" width="6.2" height="6.2" fill="#e03e42"/>
<rect x="336.22" y="358.5" width="6.2" height="6.2" fill="#e03e42"/>
<rect x="354.54" y="360.8" width="6.2" height="6.2" fill="#e03e42"/>
<rect x="372.86" y="361.2" width="6.2" height="6.2" fill="#e03e42"/>
<rect x="391.18" y="361.9" width="6.2" height="6.2" fill="#e03e42"/>
<rect x="409.5" y="362.9" width="6.2" height="6.2" fill="#e03e42"/>
<rect x="427.82" y="363.8" width="6.2" height="6.2" fill="#e03e42"/>
<rect x="446.14" y="364.4" width="6.2" height="6.2" fill="#e03e42"/>
<rect x="464.46" y="364.9" width="6.2" height="6.2" fill="#e03e42"/>
<rect x="482.78" y="367.6" width="6.2" height="6.2" fill="#e03e42"/>
<rect x="501.1" y="369.8" width="6.2" height="6.2" fill="#e03e42"/>
<line x1="321" y1="310.26" x2="504.2" y2="374.43" stroke="#747474" stroke-width="0.8"/>
<line x1="321" y1="357.91" x2="504.2" y2="372.21" stroke="#747474" stroke-width="0.8"/>
<text x="472.9" y="284.9" font-size="12" fill="#000" stroke="#000" textLength="56.2" lengthAdjust="spacingAndGlyphs" stroke-width="0.38">EC Stage 3</text>
<text x="422.4" y="306.6" font-size="8.3" fill="#1d4fdc" stroke="#1d4fdc" textLength="74.5" lengthAdjust="spacingAndGlyphs" stroke-width="0.28" word-spacing="-0.5">y = -1.682x + 16.995</text>
<text x="439" y="316.8" font-size="8.3" fill="#1d4fdc" stroke="#1d4fdc" textLength="42.2" lengthAdjust="spacingAndGlyphs" stroke-width="0.28" word-spacing="-0.5">R<tspan font-size="4.8" dy="-2.4">2</tspan><tspan dy="2.4"> = 0.8869</tspan></text>
<text x="434.8" y="336.8" font-size="8.3" fill="#ff1c1c" stroke="#ff1c1c" textLength="75.1" lengthAdjust="spacingAndGlyphs" stroke-width="0.28" word-spacing="-0.5">y = -0.3748x + 4.505</text>
<text x="451.4" y="347" font-size="8.3" fill="#ff1c1c" stroke="#ff1c1c" textLength="41.9" lengthAdjust="spacingAndGlyphs" stroke-width="0.28" word-spacing="-0.5">R<tspan font-size="4.8" dy="-2.4">2</tspan><tspan dy="2.4"> = 0.8308</tspan></text>
<path d="M516.5 300.6L519.2 303.3L516.5 306L513.8 303.3Z" fill="#1f74c2"/>
<rect x="513.9" y="338.9" width="5.2" height="5.2" fill="#e03e42"/>
<text x="521.1" y="306.3" font-size="8.2" fill="#000" stroke="#000" textLength="9.7" lengthAdjust="spacingAndGlyphs" stroke-width="0.24">Ag</text>
<text x="521.1" y="344.6" font-size="8.2" fill="#000" stroke="#000" textLength="9.7" lengthAdjust="spacingAndGlyphs" stroke-width="0.24">Au</text>
<rect x="4.5" y="4.5" width="541.5" height="406" fill="none" stroke="#5c5c5c" stroke-width="1.25"/>
<line x1="275.3" y1="4.5" x2="275.3" y2="410.5" stroke="#5c5c5c" stroke-width="1.25"/>
<line x1="4.5" y1="135.2" x2="546" y2="135.2" stroke="#5c5c5c" stroke-width="1.25"/>
<line x1="4.5" y1="267.2" x2="546" y2="267.2" stroke="#5c5c5c" stroke-width="1.25"/>
</g>
</svg>
</body></html>
